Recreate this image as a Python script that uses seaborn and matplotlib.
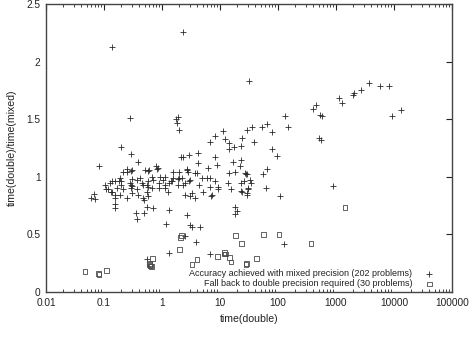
import matplotlib
matplotlib.use("Agg")
import matplotlib.pyplot as plt
import matplotlib.ticker as mticker
import seaborn as sns
import pandas as pd

# Problems solved in mixed precision: (time in double, speedup ratio)
mixed_time = [
    0.14, 2.3, 31.6, 0.28, 1.75, 1.9, 1.85, 1.95,
    0.20, 0.29, 0.39, 0.082, 0.79, 2.13, 2.3, 2.9, 4.2, 6.7, 8.2, 11.3,
    12.2, 14.3, 17.4, 14.3, 8.2, 8.9, 4.2, 16.7, 6.2, 2.7, 0.51, 0.81, 0.25,
    3700, 5700, 8200, 2700, 2040, 1950, 1130, 1270, 450, 400, 530, 580,
    9200, 13200, 132, 149, 64.5, 53, 35, 29, 79, 24, 38, 23, 79, 510, 550,
    95, 23, 22, 65,
    55, 28, 23, 26, 33, 31, 29, 24, 61, 108, 890, 19.6, 127,
    0.060, 0.070, 0.067, 0.104, 0.127, 0.155, 0.117, 0.14, 0.155, 0.155,
    0.155, 0.155, 0.18, 0.20, 0.21, 0.25, 0.25, 0.30, 0.31, 0.29, 0.29,
    0.37, 0.36, 0.37, 0.42, 0.45, 0.55, 0.55, 0.47, 0.49, 0.55, 0.49, 0.70,
    0.60, 0.67, 0.70, 0.89, 0.89, 1.04, 1.13, 1.13, 1.32, 1.43, 1.57, 1.57,
    2.0, 2.0, 2.5, 2.7, 3.0, 3.3, 3.7, 4.0, 4.4, 5.1, 6.7, 7.2, 8.2, 9.2,
    13.7, 15.5, 18.1, 18.5, 1.32, 1.17, 2.7, 3.0, 3.3, 4.5, 2.5, 3.8, 1.32,
    0.55, 6.7,
    0.21, 0.29, 0.57, 0.14, 0.19, 0.20, 0.28, 0.30, 0.37, 0.47, 0.57, 0.11,
    0.13, 0.17, 0.19, 0.31, 0.38,
    0.85, 2.8, 3.7, 2.2, 1.13, 0.92, 1.5, 1.9, 2.9, 4.9, 5.9, 6.7, 9.2, 2.3,
    1.9, 0.57, 0.66, 1.27, 2.5, 3.0, 0.57,
    14.3, 27, 29, 34, 30, 29, 23, 18.1, 6.9,
]
mixed_ratio = [
    2.13, 2.26, 1.83, 1.51, 1.50, 1.52, 1.47, 1.41,
    1.26, 1.20, 1.13, 1.09, 1.09, 1.17, 1.17, 1.19, 1.21, 1.30, 1.35, 1.40,
    1.33, 1.29, 1.26, 1.24, 1.17, 1.10, 1.12, 1.13, 1.08, 1.07, 1.06, 1.07, 1.07,
    1.81, 1.79, 1.79, 1.75, 1.73, 1.71, 1.68, 1.64, 1.62, 1.59, 1.54, 1.53,
    1.53, 1.58, 1.53, 1.43, 1.46, 1.43, 1.43, 1.41, 1.39, 1.34, 1.30, 1.27, 1.24, 1.34, 1.32,
    1.18, 1.15, 1.09, 1.07,
    1.02, 1.02, 0.95, 0.96, 0.97, 0.90, 0.84, 0.87, 0.90, 0.83, 0.92, 0.70, 0.42,
    0.82, 0.81, 0.85, 0.93, 0.95, 0.96, 0.89, 0.87, 0.84, 0.82,
    0.76, 0.73, 0.96, 0.93, 0.89, 0.82, 1.04, 1.06, 0.98, 0.93, 0.90,
    0.89, 0.69, 0.63, 0.99, 0.95, 0.93, 0.87, 0.82, 0.80, 0.74, 0.69, 0.73,
    1.06, 1.00, 0.97, 0.95, 0.90, 0.97, 0.93, 0.90, 0.95, 0.96, 0.99, 1.04,
    1.04, 0.99, 0.95, 1.06, 0.97, 0.86, 0.82, 1.03, 0.93, 0.87, 0.99, 0.84, 0.96, 0.91,
    0.95, 0.89, 1.04, 0.74, 0.71, 0.59, 0.67, 0.58, 0.56, 0.56, 0.49, 0.43, 0.34,
    0.29, 0.33,
    1.04, 1.05, 1.05, 0.96, 0.99, 0.96, 0.95, 0.92, 0.97, 0.93, 0.91, 0.89,
    0.87, 0.90, 0.84, 0.86, 0.84,
    1.08, 1.04, 1.03, 0.99, 1.00, 1.00, 0.96, 0.98, 0.96, 0.99, 0.99, 0.91, 0.89, 0.93,
    0.93, 0.96, 0.90, 0.87, 0.84, 0.83, 0.83,
    1.03, 1.03, 1.02, 0.95, 0.89, 0.86, 0.88, 0.68, 0.83,
]

# Problems that had to fall back to double precision
fallback_time = [
    0.047, 0.082, 0.08, 0.11, 0.60, 0.62, 0.66, 0.68, 2.1, 2.2, 2.0, 3.3,
    4.0, 9.2, 11.7, 12.5, 14.8, 15.5, 18.5, 1430, 57, 104, 23.6, 370, 43,
    28, 28.5, 0.63, 12.0, 0.60,
]
fallback_ratio = [
    0.18, 0.15, 0.16, 0.19, 0.24, 0.23, 0.22, 0.29, 0.47, 0.49, 0.37, 0.24,
    0.28, 0.31, 0.33, 0.33, 0.30, 0.26, 0.49, 0.73, 0.50, 0.50, 0.42, 0.42, 0.29,
    0.24, 0.245, 0.225, 0.34, 0.25,
]

x_ticks = [0.01, 0.1, 1, 10, 100, 1000, 10000, 100000]
x_tick_labels = ["0.01", "0.1", "1", "10", "100", "1000", "10000", "100000"]
y_ticks = [0, 0.5, 1, 1.5, 2, 2.5]
y_tick_labels = ["0", "0.5", "1", "1.5", "2", "2.5"]

mixed_label = "Accuracy achieved with mixed precision (202 problems)"
fallback_label = "Fall back to double precision required (30 problems)"

sns.set_style("white")
plt.rcParams["font.family"] = ["Liberation Sans", "DejaVu Sans"]

df_mixed = pd.DataFrame({"time": mixed_time, "ratio": mixed_ratio})
df_fall = pd.DataFrame({"time": fallback_time, "ratio": fallback_ratio})

fig = plt.figure(figsize=(4.74, 3.37), dpi=100)
ax = fig.add_axes([46 / 474, 45 / 337, 406 / 474, 288 / 337])

sns.scatterplot(data=df_mixed, x="time", y="ratio", marker="+", s=22,
                color="#2a2a2a", linewidth=0.6, label=mixed_label, ax=ax)
sns.scatterplot(data=df_fall, x="time", y="ratio", marker="s", s=12,
                facecolor="none", edgecolor="#4a4a4a", linewidth=0.6,
                label=fallback_label, ax=ax)

ax.set_xscale("log")
ax.set_xlim(0.01, 100000)
ax.set_ylim(0, 2.5)
ax.set_xticks(x_ticks)
ax.set_xticklabels(x_tick_labels)
ax.set_yticks(y_ticks)
ax.set_yticklabels(y_tick_labels)
ax.xaxis.set_minor_locator(mticker.LogLocator(base=10, subs=range(2, 10), numticks=20))
ax.xaxis.set_minor_formatter(mticker.NullFormatter())

ax.tick_params(axis="both", which="major", direction="in", length=4, width=0.8,
               top=True, right=True, labelsize=7.3, colors="#222222", pad=4)
ax.tick_params(axis="x", which="minor", direction="in", length=2, width=0.6,
               top=True, bottom=True, color="#222222")
for spine in ax.spines.values():
    spine.set_color("#444444")
    spine.set_linewidth(1.0)

ax.set_xlabel("time(double)", fontsize=7.6, color="#222222", labelpad=5)
ax.set_ylabel("time(double)/time(mixed)", fontsize=7.6, color="#222222", labelpad=7)

leg = ax.legend(loc="lower right", markerfirst=False, frameon=False,
                fontsize=6.5, handletextpad=0.9, borderaxespad=0.0,
                labelspacing=0.1, bbox_to_anchor=(0.975, 0.0))
for t in leg.get_texts():
    t.set_color("#222222")
    t.set_ha("right")

fig.savefig("out.png", dpi=100)
